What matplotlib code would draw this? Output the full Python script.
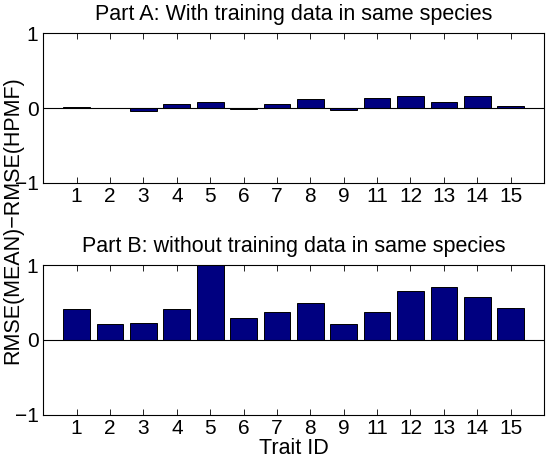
import matplotlib
matplotlib.use("Agg")
import matplotlib.pyplot as plt
import numpy as np

plt.rcParams['font.family'] = ['Liberation Sans', 'DejaVu Sans']

trait_labels = ["1", "2", "3", "4", "5", "6", "7", "8", "9", "11", "12", "13", "14", "15"]
part_a = [0.013, 0.003, -0.04, 0.058, 0.084, -0.018, 0.058, 0.124, -0.03, 0.138, 0.164, 0.084, 0.164, 0.031]
part_b = [0.417, 0.206, 0.22, 0.417, 1.05, 0.296, 0.377, 0.498, 0.206, 0.377, 0.659, 0.70, 0.578, 0.43]

W, H = 547, 463
fig = plt.figure(figsize=(W / 100, H / 100), dpi=100)

def axes_px(left, top, right, bottom):
    return fig.add_axes([left / W, 1 - bottom / H, (right - left) / W, (bottom - top) / H])

ax_a = axes_px(43.3, 33.3, 544, 182.7)
ax_b = axes_px(43.3, 265, 544, 414.7)

x = np.arange(1, len(trait_labels) + 1)
fs_tick = 15
fs_text = 15.5
for ax, vals, title in [(ax_a, part_a, "Part A: With training data in same species"),
                        (ax_b, part_b, "Part B: without training data in same species")]:
    ax.bar(x, vals, width=0.8, color="#000080", edgecolor="black", linewidth=0.7, zorder=2)
    ax.axhline(0, color="black", linewidth=0.8, zorder=3)
    ax.set_xlim(0, 15)
    ax.set_ylim(-1, 1)
    ax.set_xticks(x)
    ax.set_xticklabels(trait_labels, fontsize=fs_tick)
    ax.set_yticks([-1, 0, 1])
    ax.set_yticklabels(["\u22121", "0", "1"], fontsize=fs_tick)
    ax.tick_params(direction="in", top=True, right=True, length=4, width=0.6)
    ax.tick_params(axis="x", pad=3)
    ax.tick_params(axis="y", pad=3.5)
    for s in ax.spines.values():
        s.set_linewidth(0.8)
    ax.set_title(title, fontsize=fs_text, pad=9.5)

ax_b.set_xlabel("Trait ID", fontsize=fs_text, labelpad=0)
fig.text(12.5 / W, 1 - 220 / H, "RMSE(MEAN)\u2212RMSE(HPMF)", rotation=90,
         ha="center", va="center", fontsize=fs_text)

fig.savefig("out.png", dpi=100)
